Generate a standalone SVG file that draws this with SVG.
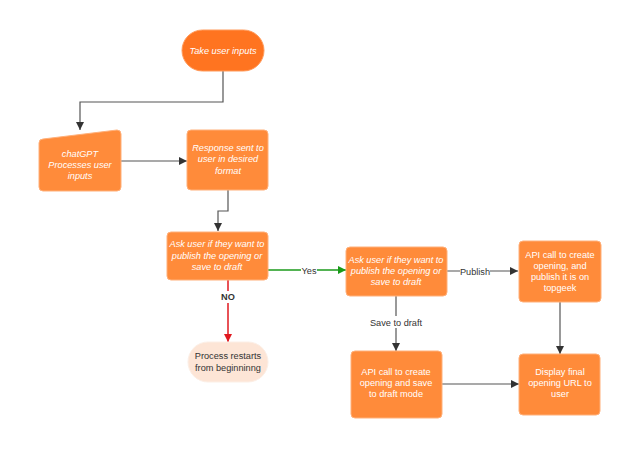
<svg xmlns="http://www.w3.org/2000/svg" width="640" height="449" viewBox="0 0 640 449">
<style>
.n{fill:#FF8B3A;stroke:#FFB07A;stroke-width:1}
.t{font-family:"Liberation Sans",Arial,sans-serif;font-size:9.2px;fill:#FFFFFF;text-anchor:middle}
.i{font-style:italic}
.c{fill:none;stroke:#555555;stroke-width:1.2}
.l{font-family:"Liberation Sans",Arial,sans-serif;font-size:9.2px;fill:#333333;text-anchor:middle}
</style>
<defs>
<marker id="a" viewBox="0 0 10 10" refX="10" refY="5" markerWidth="8" markerHeight="8" markerUnits="userSpaceOnUse" orient="auto"><path d="M0,0L10,5L0,10z" fill="#333333"/></marker>
<marker id="ag" viewBox="0 0 10 10" refX="10" refY="5" markerWidth="8" markerHeight="8" markerUnits="userSpaceOnUse" orient="auto"><path d="M0,0L10,5L0,10z" fill="#1A9A1A"/></marker>
<marker id="ar" viewBox="0 0 10 10" refX="10" refY="5" markerWidth="8" markerHeight="8" markerUnits="userSpaceOnUse" orient="auto"><path d="M0,0L10,5L0,10z" fill="#E0181F"/></marker>
</defs>
<rect width="640" height="449" fill="#FFFFFF"/>
<g id="connectors">
<path class="c" d="M223,71V102H80V130" marker-end="url(#a)"/>
<path class="c" d="M121,161H187" marker-end="url(#a)"/>
<path class="c" d="M228,190V211H218V231" marker-end="url(#a)"/>
<path d="M228,280V342" fill="none" stroke="#E0181F" stroke-width="1.5" marker-end="url(#ar)"/>
<path d="M268,270H346" fill="none" stroke="#1A9A1A" stroke-width="1.5" marker-end="url(#ag)"/>
<path class="c" d="M447,271H518" marker-end="url(#a)"/>
<path class="c" d="M396,296V351" marker-end="url(#a)"/>
<path class="c" d="M560,302V354" marker-end="url(#a)"/>
<path class="c" d="M442,384H519" marker-end="url(#a)"/>
<rect x="220" y="291" width="16" height="12" fill="#FFFFFF"/>
<text x="228" y="300" class="l" font-weight="bold" font-size="9">NO</text>
<rect x="301" y="264" width="16" height="12" fill="#FFFFFF"/>
<text x="309" y="274" class="l">Yes</text>
<rect x="460" y="265" width="30" height="12" fill="#FFFFFF"/>
<text x="475" y="275" class="l">Publish</text>
<rect x="370" y="316" width="52" height="12" fill="#FFFFFF"/>
<text x="396" y="326" class="l">Save to draft</text>
</g>
<g id="take-inputs">
<rect x="182" y="30" width="82" height="41" rx="20.5" fill="#FF7420" stroke="#FF9A5A"/>
<text x="223" y="54" class="t i">Take user inputs</text>
</g>
<g id="chatgpt">
<path class="n" d="M43,139L117,130Q121,130 121,134V187Q121,191 117,191H43Q39,191 39,187V143Q39,139 43,139Z"/>
<text class="t i" x="80" y="157">chatGPT</text>
<text class="t i" x="80" y="168">Processes user</text>
<text class="t i" x="80" y="179">inputs</text>
</g>
<g id="response">
<rect class="n" x="187" y="130" width="81" height="60" rx="4"/>
<text class="t i" x="228" y="151">Response sent to</text>
<text class="t i" x="228" y="162">user in desired</text>
<text class="t i" x="228" y="174">format</text>
</g>
<g id="ask1">
<rect class="n" x="167" y="232" width="101" height="48" rx="4"/>
<text class="t i" x="217" y="247">Ask user if they want to</text>
<text class="t i" x="217" y="259">publish the opening or</text>
<text class="t i" x="217" y="270">save to draft</text>
</g>
<g id="restart">
<rect x="188" y="342" width="80" height="40" rx="20" fill="#FDE5D6" stroke="#FCEFE6"/>
<text class="l" x="228" y="359">Process restarts</text>
<text class="l" x="228" y="371">from beginninng</text>
</g>
<g id="ask2">
<rect class="n" x="346" y="247" width="101" height="49" rx="4"/>
<text class="t i" x="396" y="263">Ask user if they want to</text>
<text class="t i" x="396" y="274">publish the opening or</text>
<text class="t i" x="396" y="285">save to draft</text>
</g>
<g id="api-publish">
<rect class="n" x="519" y="241" width="82" height="61" rx="4"/>
<text class="t" x="560" y="258">API call to create</text>
<text class="t" x="560" y="269">opening, and</text>
<text class="t" x="560" y="280">publish it is on</text>
<text class="t" x="560" y="291">topgeek</text>
</g>
<g id="api-draft">
<rect class="n" x="351" y="351" width="91" height="67" rx="4"/>
<text class="t" x="396" y="375">API call to create</text>
<text class="t" x="396" y="386">opening and save</text>
<text class="t" x="396" y="397">to draft mode</text>
</g>
<g id="display">
<rect class="n" x="519" y="354" width="81" height="61" rx="4"/>
<text class="t" x="560" y="375">Display final</text>
<text class="t" x="560" y="386">opening URL to</text>
<text class="t" x="560" y="397">user</text>
</g>
</svg>
